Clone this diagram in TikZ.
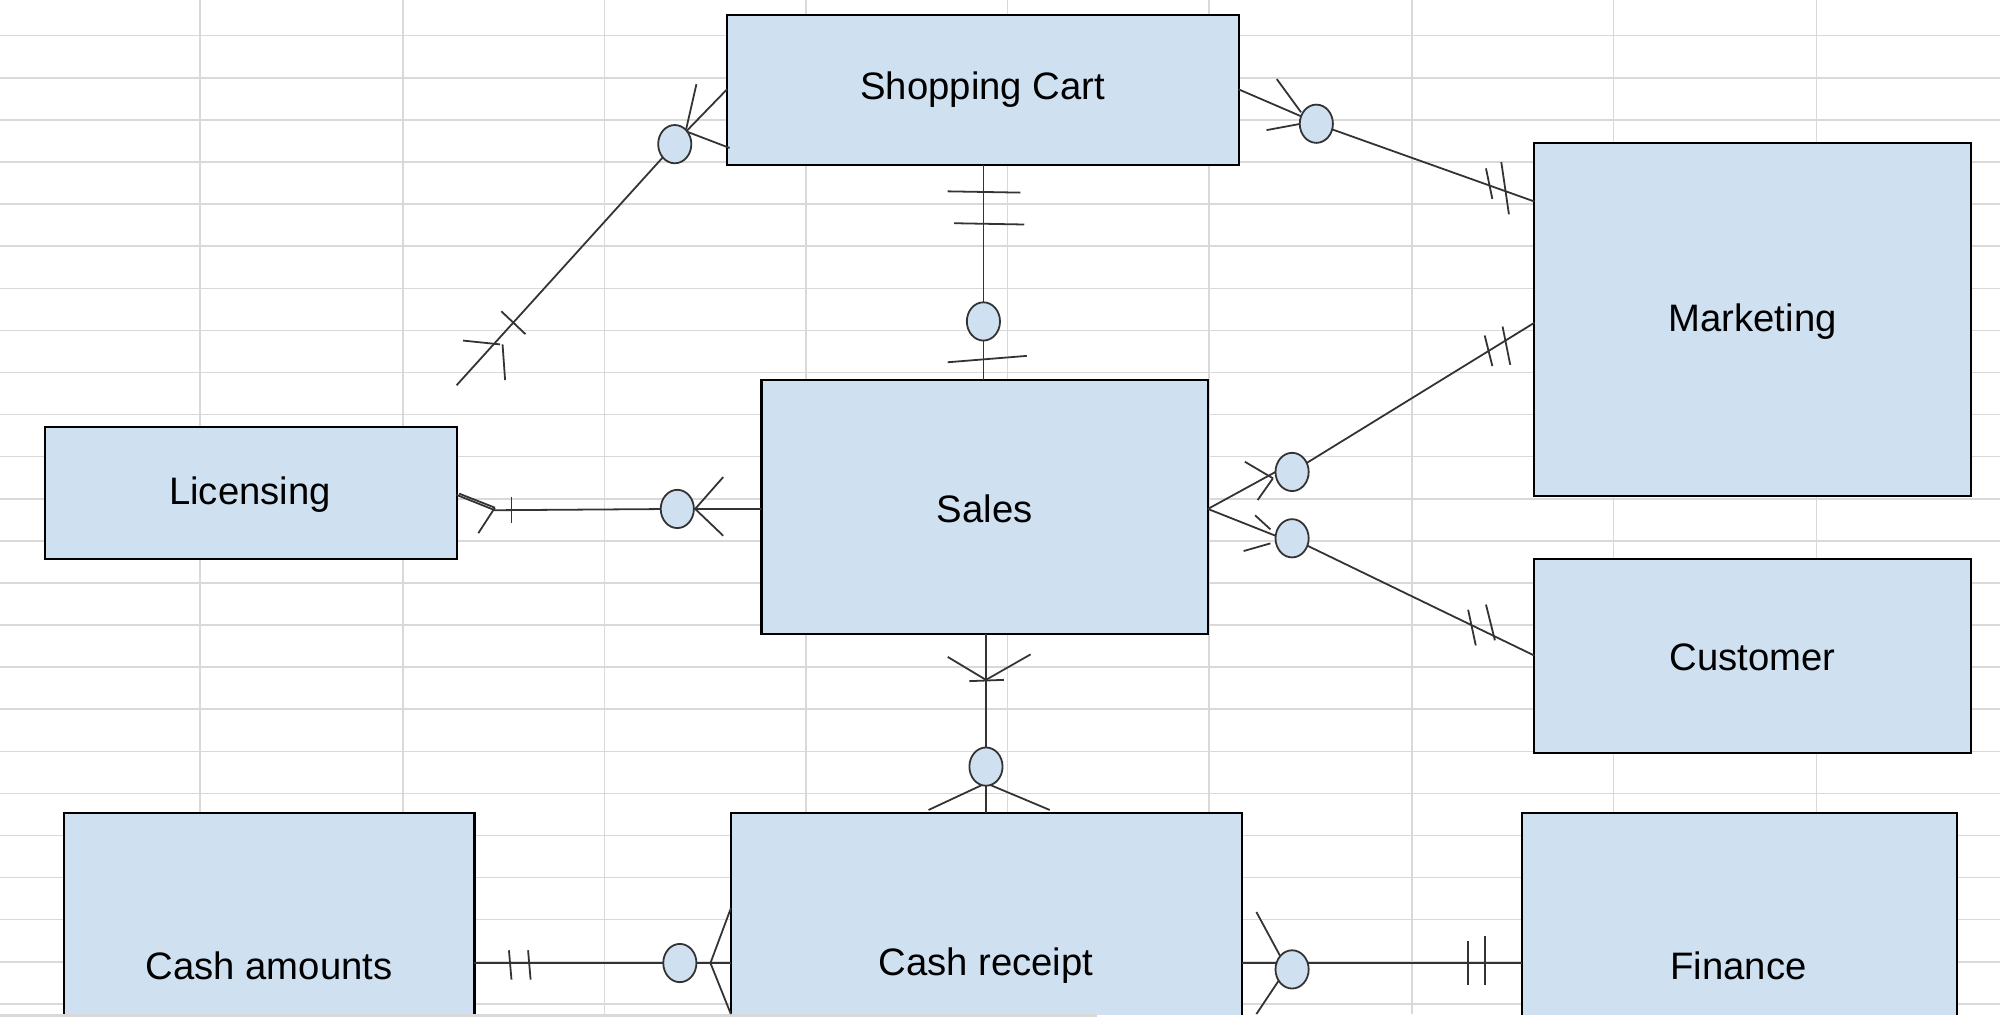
\documentclass[tikz,border=0pt]{standalone}
\usepackage{fontspec}
\usetikzlibrary{shapes.geometric}
\setmainfont{Liberation Sans}
\definecolor{bx}{HTML}{CFE0F1}
\definecolor{gr}{HTML}{D9D9D9}
\begin{document}
\begin{tikzpicture}[x=0.5pt,y=-0.5pt,
  ent/.style={draw=black,fill=bx,line width=0.8pt},
  lbl/.style={font=\fontsize{15}{18}\selectfont},
  ln/.style={draw=black!80,line width=0.7pt},
  oc/.style={draw=black!80,fill=bx,line width=0.7pt,ellipse,minimum width=13pt,minimum height=15pt,inner sep=0pt}]
\useasboundingbox (0,0) rectangle (1568,800);
\fill[white] (0,0) rectangle (1568,800);
% grid
\foreach \x in {157,316,474,632,790,948,1107,1265,1424} \draw[gr,line width=0.6pt] (\x,0) -- (\x,795);
\foreach \i in {0,...,23} \draw[gr,line width=0.6pt] (0,28+33*\i) -- (1568,28+33*\i);
\begin{scope}
\clip (0,0) rectangle (1568,795);
\draw[ent] (570,12) rectangle (971,129); \node[lbl] (sc) at (770.5,70.5) {Shopping Cart};
\draw[ent] (1203,112) rectangle (1545,389); \node[lbl] (mk) at (1374,252) {Marketing};
\draw[ent] (35,335) rectangle (358,438); \node[lbl] (li) at (196,388) {Licensing};
\draw[ent] (597,298) rectangle (947,497); \node[lbl] (sa) at (772,399) {Sales};
\draw[ent] (1203,438) rectangle (1545,590); \node[lbl] (cu) at (1374,515) {Customer};
\draw[ent] (50,637) rectangle (372,820); \node[lbl] (ca) at (211,757) {Cash amounts};
\draw[ent] (573,637) rectangle (974,820); \node[lbl] (cr) at (773,757) {Cash receipt};
\draw[ent] (1193,637) rectangle (1534,820); \node[lbl] (fi) at (1363,757) {Finance};
\end{scope}
\draw[gr,line width=1pt] (0,796) -- (860,796);
% 1 shopping cart - left
\draw[ln] (358,302) -- (529,113);
\draw[ln] (570,70) -- (538,103) -- (572,116); \draw[ln] (546,66) -- (538,101);
\draw[ln] (363,267) -- (392,270); \draw[ln] (393,244) -- (412,262); \draw[ln] (394,270) -- (396,298);
\node[oc] (c1) at (529,113) {};
% 2 shopping cart - marketing
\draw[ln] (1032,97) -- (1203,158);
\draw[ln] (971,70) -- (1022,92); \draw[ln] (1001,62) -- (1020,88); \draw[ln] (993,102) -- (1020,97);
\draw[ln] (1165,132) -- (1170,156); \draw[ln] (1177,127) -- (1183,168);
\node[oc] (c2) at (1032,97) {};
% 3 shopping cart - sales
\draw[ln] (771,129) -- (771,298);
\draw[ln] (743,150) -- (800,151); \draw[ln] (748,175) -- (803,176);
\draw[ln] (743,284) -- (805,279);
\node[oc] (c3) at (771,252) {};
% 4 licensing - sales
\draw[ln] (358,388) -- (388,400) -- (531,399) -- (597,399);
\draw[ln] (360,387) -- (388,398); \draw[ln] (375,418) -- (388,398);
\draw[ln] (401,390) -- (401,410);
\draw[ln] (567,374) -- (545,399) -- (567,420);
\node[oc] (c4) at (531,399) {};
% 5 sales - marketing
\draw[ln] (947,399) -- (1000,370); \draw[ln] (1013,370) -- (1203,253);
\draw[ln] (976,362) -- (998,375); \draw[ln] (986,392) -- (998,375);
\draw[ln] (1164,263) -- (1170,287); \draw[ln] (1178,256) -- (1184,286);
\node[oc] (c5) at (1013,370) {};
% 6 sales - customer
\draw[ln] (947,399) -- (1000,420); \draw[ln] (1013,422) -- (1203,514);
\draw[ln] (984,404) -- (996,415); \draw[ln] (975,432) -- (996,426);
\draw[ln] (1151,478) -- (1157,506); \draw[ln] (1165,474) -- (1172,502);
\node[oc] (c6) at (1013,422) {};
% 7 sales - cash receipt
\draw[ln] (773,497) -- (773,637);
\draw[ln] (743,515) -- (773,533) -- (808,513); \draw[ln] (760,534) -- (787,533);
\draw[ln] (728,635) -- (773,614) -- (823,635);
\node[oc] (c7) at (773,601) {};
% 8 cash amounts - cash receipt
\draw[ln] (372,755) -- (573,755);
\draw[ln] (399,745) -- (401,768); \draw[ln] (414,745) -- (416,768);
\draw[ln] (573,712) -- (557,755) -- (573,795);
\node[oc] (c8) at (533,755) {};
% 9 cash receipt - finance
\draw[ln] (974,755) -- (1193,755);
\draw[ln] (985,715) -- (1005,752); \draw[ln] (1005,765) -- (985,795);
\draw[ln] (1151,738) -- (1151,772); \draw[ln] (1164,734) -- (1164,772);
\node[oc] (c9) at (1013,760) {};
\end{tikzpicture}
\end{document}
